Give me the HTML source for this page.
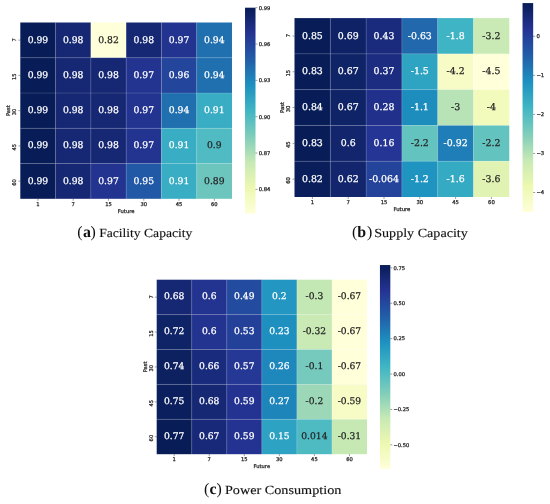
<!DOCTYPE html>
<html><head><meta charset="utf-8"><style>
html,body{margin:0;padding:0;background:#fff;}
body{width:550px;height:504px;overflow:hidden;}
svg{display:block;}
.an{font-family:"DejaVu Serif",serif;text-anchor:middle;stroke-width:0.25;}
.sm{font-family:"DejaVu Sans",sans-serif;text-anchor:middle;fill:#262626;stroke:#262626;stroke-width:0.25;}
svg text{text-rendering:geometricPrecision;}
.tk{stroke:#262626;stroke-width:0.45;}
.cap{font-family:"Liberation Serif",serif;font-size:12.4px;fill:#111;}
.pr{font-size:15.9px;}
.lb{font-size:15.9px;font-weight:bold;}
.ct{stroke:#111;stroke-width:0.12;}
line{stroke:rgba(255,255,255,0.3);stroke-width:0.45;}
</style></head><body>
<svg width="550" height="504" viewBox="0 0 550 504">
<defs><linearGradient id="g" x1="0" y1="0" x2="0" y2="1"><stop offset="0.0000" stop-color="#081d58"/><stop offset="0.0156" stop-color="#0b1f5e"/><stop offset="0.0312" stop-color="#0e2265"/><stop offset="0.0469" stop-color="#12256d"/><stop offset="0.0625" stop-color="#162874"/><stop offset="0.0781" stop-color="#192b7c"/><stop offset="0.0938" stop-color="#1d2e83"/><stop offset="0.1094" stop-color="#21308b"/><stop offset="0.1250" stop-color="#243392"/><stop offset="0.1406" stop-color="#253896"/><stop offset="0.1562" stop-color="#243d98"/><stop offset="0.1719" stop-color="#24439b"/><stop offset="0.1875" stop-color="#24489d"/><stop offset="0.2031" stop-color="#234da0"/><stop offset="0.2188" stop-color="#2352a3"/><stop offset="0.2344" stop-color="#2258a5"/><stop offset="0.2500" stop-color="#225da8"/><stop offset="0.2656" stop-color="#2163aa"/><stop offset="0.2812" stop-color="#216aad"/><stop offset="0.2969" stop-color="#2070b0"/><stop offset="0.3125" stop-color="#2076b3"/><stop offset="0.3281" stop-color="#1f7db6"/><stop offset="0.3438" stop-color="#1e83ba"/><stop offset="0.3594" stop-color="#1e8abd"/><stop offset="0.3750" stop-color="#1d90c0"/><stop offset="0.3906" stop-color="#2195c0"/><stop offset="0.4062" stop-color="#259ac1"/><stop offset="0.4219" stop-color="#2a9ec1"/><stop offset="0.4375" stop-color="#2ea3c2"/><stop offset="0.4531" stop-color="#33a7c2"/><stop offset="0.4688" stop-color="#37acc3"/><stop offset="0.4844" stop-color="#3cb1c3"/><stop offset="0.5000" stop-color="#40b5c4"/><stop offset="0.5156" stop-color="#48b9c3"/><stop offset="0.5312" stop-color="#50bbc2"/><stop offset="0.5469" stop-color="#57bec1"/><stop offset="0.5625" stop-color="#5fc1c0"/><stop offset="0.5781" stop-color="#67c4be"/><stop offset="0.5938" stop-color="#6fc7bd"/><stop offset="0.6094" stop-color="#76cabc"/><stop offset="0.6250" stop-color="#7ecdbb"/><stop offset="0.6406" stop-color="#87d0ba"/><stop offset="0.6562" stop-color="#90d4b9"/><stop offset="0.6719" stop-color="#99d7b8"/><stop offset="0.6875" stop-color="#a2dbb8"/><stop offset="0.7031" stop-color="#abdeb7"/><stop offset="0.7188" stop-color="#b4e2b6"/><stop offset="0.7344" stop-color="#bde5b5"/><stop offset="0.7500" stop-color="#c6e9b4"/><stop offset="0.7656" stop-color="#cbebb4"/><stop offset="0.7812" stop-color="#d0edb3"/><stop offset="0.7969" stop-color="#d5efb3"/><stop offset="0.8125" stop-color="#daf0b3"/><stop offset="0.8281" stop-color="#dff2b2"/><stop offset="0.8438" stop-color="#e3f4b2"/><stop offset="0.8594" stop-color="#e8f6b1"/><stop offset="0.8750" stop-color="#edf8b1"/><stop offset="0.8906" stop-color="#eff9b6"/><stop offset="0.9062" stop-color="#f1fabb"/><stop offset="0.9219" stop-color="#f4fbc0"/><stop offset="0.9375" stop-color="#f6fbc5"/><stop offset="0.9531" stop-color="#f8fcca"/><stop offset="0.9688" stop-color="#fafdcf"/><stop offset="0.9844" stop-color="#fdfed4"/><stop offset="1.0000" stop-color="#ffffd9"/></linearGradient></defs>
<rect x="20.30" y="22.50" width="35.28" height="35.26" fill="#081d58"/>
<rect x="55.58" y="22.50" width="35.28" height="35.26" fill="#162874"/>
<rect x="90.86" y="22.50" width="35.28" height="35.26" fill="#ffffd9"/>
<rect x="126.14" y="22.50" width="35.28" height="35.26" fill="#162874"/>
<rect x="161.42" y="22.50" width="35.28" height="35.26" fill="#233390"/>
<rect x="196.70" y="22.50" width="35.28" height="35.26" fill="#2070b0"/>
<rect x="20.30" y="57.76" width="35.28" height="35.26" fill="#081d58"/>
<rect x="55.58" y="57.76" width="35.28" height="35.26" fill="#162874"/>
<rect x="90.86" y="57.76" width="35.28" height="35.26" fill="#162874"/>
<rect x="126.14" y="57.76" width="35.28" height="35.26" fill="#233390"/>
<rect x="161.42" y="57.76" width="35.28" height="35.26" fill="#24459c"/>
<rect x="196.70" y="57.76" width="35.28" height="35.26" fill="#2070b0"/>
<rect x="20.30" y="93.02" width="35.28" height="35.26" fill="#081d58"/>
<rect x="55.58" y="93.02" width="35.28" height="35.26" fill="#162874"/>
<rect x="90.86" y="93.02" width="35.28" height="35.26" fill="#162874"/>
<rect x="126.14" y="93.02" width="35.28" height="35.26" fill="#233390"/>
<rect x="161.42" y="93.02" width="35.28" height="35.26" fill="#2070b0"/>
<rect x="196.70" y="93.02" width="35.28" height="35.26" fill="#39adc3"/>
<rect x="20.30" y="128.28" width="35.28" height="35.26" fill="#081d58"/>
<rect x="55.58" y="128.28" width="35.28" height="35.26" fill="#162874"/>
<rect x="90.86" y="128.28" width="35.28" height="35.26" fill="#162874"/>
<rect x="126.14" y="128.28" width="35.28" height="35.26" fill="#233390"/>
<rect x="161.42" y="128.28" width="35.28" height="35.26" fill="#39adc3"/>
<rect x="196.70" y="128.28" width="35.28" height="35.26" fill="#50bbc2"/>
<rect x="20.30" y="163.54" width="35.28" height="35.26" fill="#081d58"/>
<rect x="55.58" y="163.54" width="35.28" height="35.26" fill="#162874"/>
<rect x="90.86" y="163.54" width="35.28" height="35.26" fill="#233390"/>
<rect x="126.14" y="163.54" width="35.28" height="35.26" fill="#2259a6"/>
<rect x="161.42" y="163.54" width="35.28" height="35.26" fill="#39adc3"/>
<rect x="196.70" y="163.54" width="35.28" height="35.26" fill="#6dc6be"/>
<line x1="55.58" y1="22.50" x2="55.58" y2="198.80" />
<line x1="90.86" y1="22.50" x2="90.86" y2="198.80" />
<line x1="126.14" y1="22.50" x2="126.14" y2="198.80" />
<line x1="161.42" y1="22.50" x2="161.42" y2="198.80" />
<line x1="196.70" y1="22.50" x2="196.70" y2="198.80" />
<line x1="20.30" y1="57.76" x2="231.98" y2="57.76" />
<line x1="20.30" y1="93.02" x2="231.98" y2="93.02" />
<line x1="20.30" y1="128.28" x2="231.98" y2="128.28" />
<line x1="20.30" y1="163.54" x2="231.98" y2="163.54" />
<text class="an" x="37.94" y="42.67" fill="#ffffff" stroke="#ffffff" font-size="9.24">0.99</text>
<text class="an" x="73.22" y="42.67" fill="#ffffff" stroke="#ffffff" font-size="9.24">0.98</text>
<text class="an" x="108.50" y="42.67" fill="#262626" stroke="#262626" font-size="9.24">0.82</text>
<text class="an" x="143.78" y="42.67" fill="#ffffff" stroke="#ffffff" font-size="9.24">0.98</text>
<text class="an" x="179.06" y="42.67" fill="#ffffff" stroke="#ffffff" font-size="9.24">0.97</text>
<text class="an" x="214.34" y="42.67" fill="#ffffff" stroke="#ffffff" font-size="9.24">0.94</text>
<text class="an" x="37.94" y="77.93" fill="#ffffff" stroke="#ffffff" font-size="9.24">0.99</text>
<text class="an" x="73.22" y="77.93" fill="#ffffff" stroke="#ffffff" font-size="9.24">0.98</text>
<text class="an" x="108.50" y="77.93" fill="#ffffff" stroke="#ffffff" font-size="9.24">0.98</text>
<text class="an" x="143.78" y="77.93" fill="#ffffff" stroke="#ffffff" font-size="9.24">0.97</text>
<text class="an" x="179.06" y="77.93" fill="#ffffff" stroke="#ffffff" font-size="9.24">0.96</text>
<text class="an" x="214.34" y="77.93" fill="#ffffff" stroke="#ffffff" font-size="9.24">0.94</text>
<text class="an" x="37.94" y="113.19" fill="#ffffff" stroke="#ffffff" font-size="9.24">0.99</text>
<text class="an" x="73.22" y="113.19" fill="#ffffff" stroke="#ffffff" font-size="9.24">0.98</text>
<text class="an" x="108.50" y="113.19" fill="#ffffff" stroke="#ffffff" font-size="9.24">0.98</text>
<text class="an" x="143.78" y="113.19" fill="#ffffff" stroke="#ffffff" font-size="9.24">0.97</text>
<text class="an" x="179.06" y="113.19" fill="#ffffff" stroke="#ffffff" font-size="9.24">0.94</text>
<text class="an" x="214.34" y="113.19" fill="#ffffff" stroke="#ffffff" font-size="9.24">0.91</text>
<text class="an" x="37.94" y="148.45" fill="#ffffff" stroke="#ffffff" font-size="9.24">0.99</text>
<text class="an" x="73.22" y="148.45" fill="#ffffff" stroke="#ffffff" font-size="9.24">0.98</text>
<text class="an" x="108.50" y="148.45" fill="#ffffff" stroke="#ffffff" font-size="9.24">0.98</text>
<text class="an" x="143.78" y="148.45" fill="#ffffff" stroke="#ffffff" font-size="9.24">0.97</text>
<text class="an" x="179.06" y="148.45" fill="#ffffff" stroke="#ffffff" font-size="9.24">0.91</text>
<text class="an" x="214.34" y="148.45" fill="#262626" stroke="#262626" font-size="9.24">0.9</text>
<text class="an" x="37.94" y="183.71" fill="#ffffff" stroke="#ffffff" font-size="9.24">0.99</text>
<text class="an" x="73.22" y="183.71" fill="#ffffff" stroke="#ffffff" font-size="9.24">0.98</text>
<text class="an" x="108.50" y="183.71" fill="#ffffff" stroke="#ffffff" font-size="9.24">0.97</text>
<text class="an" x="143.78" y="183.71" fill="#ffffff" stroke="#ffffff" font-size="9.24">0.95</text>
<text class="an" x="179.06" y="183.71" fill="#ffffff" stroke="#ffffff" font-size="9.24">0.91</text>
<text class="an" x="214.34" y="183.71" fill="#262626" stroke="#262626" font-size="9.24">0.89</text>
<line class="tk" x1="18.36" y1="40.13" x2="20.30" y2="40.13"/>
<text class="sm" style="text-anchor:end" font-size="5.22" transform="translate(16.21,38.15) rotate(-90)" x="0" y="0">7</text>
<line class="tk" x1="18.36" y1="75.39" x2="20.30" y2="75.39"/>
<text class="sm" style="text-anchor:end" font-size="5.22" transform="translate(16.21,73.41) rotate(-90)" x="0" y="0">15</text>
<line class="tk" x1="18.36" y1="110.65" x2="20.30" y2="110.65"/>
<text class="sm" style="text-anchor:end" font-size="5.22" transform="translate(16.21,108.67) rotate(-90)" x="0" y="0">30</text>
<line class="tk" x1="18.36" y1="145.91" x2="20.30" y2="145.91"/>
<text class="sm" style="text-anchor:end" font-size="5.22" transform="translate(16.21,143.93) rotate(-90)" x="0" y="0">45</text>
<line class="tk" x1="18.36" y1="181.17" x2="20.30" y2="181.17"/>
<text class="sm" style="text-anchor:end" font-size="5.22" transform="translate(16.21,179.19) rotate(-90)" x="0" y="0">60</text>
<line class="tk" x1="37.94" y1="198.80" x2="37.94" y2="200.74"/>
<text class="sm" font-size="5.22" x="37.94" y="206.10">1</text>
<line class="tk" x1="73.22" y1="198.80" x2="73.22" y2="200.74"/>
<text class="sm" font-size="5.22" x="73.22" y="206.10">7</text>
<line class="tk" x1="108.50" y1="198.80" x2="108.50" y2="200.74"/>
<text class="sm" font-size="5.22" x="108.50" y="206.10">15</text>
<line class="tk" x1="143.78" y1="198.80" x2="143.78" y2="200.74"/>
<text class="sm" font-size="5.22" x="143.78" y="206.10">30</text>
<line class="tk" x1="179.06" y1="198.80" x2="179.06" y2="200.74"/>
<text class="sm" font-size="5.22" x="179.06" y="206.10">45</text>
<line class="tk" x1="214.34" y1="198.80" x2="214.34" y2="200.74"/>
<text class="sm" font-size="5.22" x="214.34" y="206.10">60</text>
<text class="sm" font-size="5.22" x="126.14" y="212.56">Future</text>
<text class="sm" font-size="5.22" transform="translate(10.07,110.65) rotate(-90)" x="0" y="0">Past</text>
<rect x="245.03" y="7.69" width="10.48" height="205.92" fill="url(#g)"/>
<line class="tk" x1="255.51" y1="189.38" x2="257.44" y2="189.38"/>
<text class="sm" style="text-anchor:start" font-size="5.22" x="258.68" y="191.22">0.84</text>
<line class="tk" x1="255.51" y1="153.04" x2="257.44" y2="153.04"/>
<text class="sm" style="text-anchor:start" font-size="5.22" x="258.68" y="154.88">0.87</text>
<line class="tk" x1="255.51" y1="116.71" x2="257.44" y2="116.71"/>
<text class="sm" style="text-anchor:start" font-size="5.22" x="258.68" y="118.54">0.90</text>
<line class="tk" x1="255.51" y1="80.37" x2="257.44" y2="80.37"/>
<text class="sm" style="text-anchor:start" font-size="5.22" x="258.68" y="82.20">0.93</text>
<line class="tk" x1="255.51" y1="44.03" x2="257.44" y2="44.03"/>
<text class="sm" style="text-anchor:start" font-size="5.22" x="258.68" y="45.86">0.96</text>
<line class="tk" x1="255.51" y1="7.69" x2="257.44" y2="7.69"/>
<text class="sm" style="text-anchor:start" font-size="5.22" x="258.68" y="9.52">0.99</text>
<rect x="294.50" y="18.10" width="35.80" height="35.78" fill="#081d58"/>
<rect x="330.30" y="18.10" width="35.80" height="35.78" fill="#0e2265"/>
<rect x="366.10" y="18.10" width="35.80" height="35.78" fill="#1a2b7e"/>
<rect x="401.90" y="18.10" width="35.80" height="35.78" fill="#2168ad"/>
<rect x="437.70" y="18.10" width="35.80" height="35.78" fill="#3fb4c4"/>
<rect x="473.50" y="18.10" width="35.80" height="35.78" fill="#c9eab4"/>
<rect x="294.50" y="53.88" width="35.80" height="35.78" fill="#081d58"/>
<rect x="330.30" y="53.88" width="35.80" height="35.78" fill="#0f2367"/>
<rect x="366.10" y="53.88" width="35.80" height="35.78" fill="#1c2d81"/>
<rect x="401.90" y="53.88" width="35.80" height="35.78" fill="#2fa4c2"/>
<rect x="437.70" y="53.88" width="35.80" height="35.78" fill="#f7fcc7"/>
<rect x="473.50" y="53.88" width="35.80" height="35.78" fill="#ffffd9"/>
<rect x="294.50" y="89.66" width="35.80" height="35.78" fill="#081d58"/>
<rect x="330.30" y="89.66" width="35.80" height="35.78" fill="#0f2367"/>
<rect x="366.10" y="89.66" width="35.80" height="35.78" fill="#21308b"/>
<rect x="401.90" y="89.66" width="35.80" height="35.78" fill="#1d8dbe"/>
<rect x="437.70" y="89.66" width="35.80" height="35.78" fill="#b7e3b6"/>
<rect x="473.50" y="89.66" width="35.80" height="35.78" fill="#f2fabc"/>
<rect x="294.50" y="125.44" width="35.80" height="35.78" fill="#081d58"/>
<rect x="330.30" y="125.44" width="35.80" height="35.78" fill="#12256d"/>
<rect x="366.10" y="125.44" width="35.80" height="35.78" fill="#253595"/>
<rect x="401.90" y="125.44" width="35.80" height="35.78" fill="#63c3bf"/>
<rect x="437.70" y="125.44" width="35.80" height="35.78" fill="#1f7eb7"/>
<rect x="473.50" y="125.44" width="35.80" height="35.78" fill="#63c3bf"/>
<rect x="294.50" y="161.22" width="35.80" height="35.78" fill="#091e5a"/>
<rect x="330.30" y="161.22" width="35.80" height="35.78" fill="#12256d"/>
<rect x="366.10" y="161.22" width="35.80" height="35.78" fill="#24439b"/>
<rect x="401.90" y="161.22" width="35.80" height="35.78" fill="#2094c0"/>
<rect x="437.70" y="161.22" width="35.80" height="35.78" fill="#35aac3"/>
<rect x="473.50" y="161.22" width="35.80" height="35.78" fill="#e0f3b2"/>
<line x1="330.30" y1="18.10" x2="330.30" y2="197.00" />
<line x1="366.10" y1="18.10" x2="366.10" y2="197.00" />
<line x1="401.90" y1="18.10" x2="401.90" y2="197.00" />
<line x1="437.70" y1="18.10" x2="437.70" y2="197.00" />
<line x1="473.50" y1="18.10" x2="473.50" y2="197.00" />
<line x1="294.50" y1="53.88" x2="509.30" y2="53.88" />
<line x1="294.50" y1="89.66" x2="509.30" y2="89.66" />
<line x1="294.50" y1="125.44" x2="509.30" y2="125.44" />
<line x1="294.50" y1="161.22" x2="509.30" y2="161.22" />
<text class="an" x="312.40" y="38.57" fill="#ffffff" stroke="#ffffff" font-size="9.38">0.85</text>
<text class="an" x="348.20" y="38.57" fill="#ffffff" stroke="#ffffff" font-size="9.38">0.69</text>
<text class="an" x="384.00" y="38.57" fill="#ffffff" stroke="#ffffff" font-size="9.38">0.43</text>
<text class="an" x="419.80" y="38.57" fill="#ffffff" stroke="#ffffff" font-size="9.38">-0.63</text>
<text class="an" x="455.60" y="38.57" fill="#ffffff" stroke="#ffffff" font-size="9.38">-1.8</text>
<text class="an" x="491.40" y="38.57" fill="#262626" stroke="#262626" font-size="9.38">-3.2</text>
<text class="an" x="312.40" y="74.35" fill="#ffffff" stroke="#ffffff" font-size="9.38">0.83</text>
<text class="an" x="348.20" y="74.35" fill="#ffffff" stroke="#ffffff" font-size="9.38">0.67</text>
<text class="an" x="384.00" y="74.35" fill="#ffffff" stroke="#ffffff" font-size="9.38">0.37</text>
<text class="an" x="419.80" y="74.35" fill="#ffffff" stroke="#ffffff" font-size="9.38">-1.5</text>
<text class="an" x="455.60" y="74.35" fill="#262626" stroke="#262626" font-size="9.38">-4.2</text>
<text class="an" x="491.40" y="74.35" fill="#262626" stroke="#262626" font-size="9.38">-4.5</text>
<text class="an" x="312.40" y="110.13" fill="#ffffff" stroke="#ffffff" font-size="9.38">0.84</text>
<text class="an" x="348.20" y="110.13" fill="#ffffff" stroke="#ffffff" font-size="9.38">0.67</text>
<text class="an" x="384.00" y="110.13" fill="#ffffff" stroke="#ffffff" font-size="9.38">0.28</text>
<text class="an" x="419.80" y="110.13" fill="#ffffff" stroke="#ffffff" font-size="9.38">-1.1</text>
<text class="an" x="455.60" y="110.13" fill="#262626" stroke="#262626" font-size="9.38">-3</text>
<text class="an" x="491.40" y="110.13" fill="#262626" stroke="#262626" font-size="9.38">-4</text>
<text class="an" x="312.40" y="145.91" fill="#ffffff" stroke="#ffffff" font-size="9.38">0.83</text>
<text class="an" x="348.20" y="145.91" fill="#ffffff" stroke="#ffffff" font-size="9.38">0.6</text>
<text class="an" x="384.00" y="145.91" fill="#ffffff" stroke="#ffffff" font-size="9.38">0.16</text>
<text class="an" x="419.80" y="145.91" fill="#262626" stroke="#262626" font-size="9.38">-2.2</text>
<text class="an" x="455.60" y="145.91" fill="#ffffff" stroke="#ffffff" font-size="9.38">-0.92</text>
<text class="an" x="491.40" y="145.91" fill="#262626" stroke="#262626" font-size="9.38">-2.2</text>
<text class="an" x="312.40" y="181.69" fill="#ffffff" stroke="#ffffff" font-size="9.38">0.82</text>
<text class="an" x="348.20" y="181.69" fill="#ffffff" stroke="#ffffff" font-size="9.38">0.62</text>
<text class="an" x="384.00" y="181.69" fill="#ffffff" stroke="#ffffff" font-size="9.38">-0.064</text>
<text class="an" x="419.80" y="181.69" fill="#ffffff" stroke="#ffffff" font-size="9.38">-1.2</text>
<text class="an" x="455.60" y="181.69" fill="#ffffff" stroke="#ffffff" font-size="9.38">-1.6</text>
<text class="an" x="491.40" y="181.69" fill="#262626" stroke="#262626" font-size="9.38">-3.6</text>
<line class="tk" x1="292.53" y1="35.99" x2="294.50" y2="35.99"/>
<text class="sm" style="text-anchor:end" font-size="5.30" transform="translate(290.35,33.99) rotate(-90)" x="0" y="0">7</text>
<line class="tk" x1="292.53" y1="71.77" x2="294.50" y2="71.77"/>
<text class="sm" style="text-anchor:end" font-size="5.30" transform="translate(290.35,69.77) rotate(-90)" x="0" y="0">15</text>
<line class="tk" x1="292.53" y1="107.55" x2="294.50" y2="107.55"/>
<text class="sm" style="text-anchor:end" font-size="5.30" transform="translate(290.35,105.55) rotate(-90)" x="0" y="0">30</text>
<line class="tk" x1="292.53" y1="143.33" x2="294.50" y2="143.33"/>
<text class="sm" style="text-anchor:end" font-size="5.30" transform="translate(290.35,141.33) rotate(-90)" x="0" y="0">45</text>
<line class="tk" x1="292.53" y1="179.11" x2="294.50" y2="179.11"/>
<text class="sm" style="text-anchor:end" font-size="5.30" transform="translate(290.35,177.11) rotate(-90)" x="0" y="0">60</text>
<line class="tk" x1="312.40" y1="197.00" x2="312.40" y2="198.97"/>
<text class="sm" font-size="5.30" x="312.40" y="204.41">1</text>
<line class="tk" x1="348.20" y1="197.00" x2="348.20" y2="198.97"/>
<text class="sm" font-size="5.30" x="348.20" y="204.41">7</text>
<line class="tk" x1="384.00" y1="197.00" x2="384.00" y2="198.97"/>
<text class="sm" font-size="5.30" x="384.00" y="204.41">15</text>
<line class="tk" x1="419.80" y1="197.00" x2="419.80" y2="198.97"/>
<text class="sm" font-size="5.30" x="419.80" y="204.41">30</text>
<line class="tk" x1="455.60" y1="197.00" x2="455.60" y2="198.97"/>
<text class="sm" font-size="5.30" x="455.60" y="204.41">45</text>
<line class="tk" x1="491.40" y1="197.00" x2="491.40" y2="198.97"/>
<text class="sm" font-size="5.30" x="491.40" y="204.41">60</text>
<text class="sm" font-size="5.30" x="401.90" y="210.96">Future</text>
<text class="sm" font-size="5.30" transform="translate(284.12,107.55) rotate(-90)" x="0" y="0">Past</text>
<rect x="522.54" y="3.07" width="10.63" height="208.96" fill="url(#g)"/>
<line class="tk" x1="533.17" y1="36.27" x2="535.14" y2="36.27"/>
<text class="sm" style="text-anchor:start" font-size="5.30" x="536.39" y="38.13">0</text>
<line class="tk" x1="533.17" y1="75.33" x2="535.14" y2="75.33"/>
<text class="sm" style="text-anchor:start" font-size="5.30" x="536.39" y="77.19">−1</text>
<line class="tk" x1="533.17" y1="114.38" x2="535.14" y2="114.38"/>
<text class="sm" style="text-anchor:start" font-size="5.30" x="536.39" y="116.25">−2</text>
<line class="tk" x1="533.17" y1="153.44" x2="535.14" y2="153.44"/>
<text class="sm" style="text-anchor:start" font-size="5.30" x="536.39" y="155.30">−3</text>
<line class="tk" x1="533.17" y1="192.50" x2="535.14" y2="192.50"/>
<text class="sm" style="text-anchor:start" font-size="5.30" x="536.39" y="194.36">−4</text>
<rect x="156.70" y="279.70" width="35.05" height="34.90" fill="#162874"/>
<rect x="191.75" y="279.70" width="35.05" height="34.90" fill="#233390"/>
<rect x="226.80" y="279.70" width="35.05" height="34.90" fill="#234b9f"/>
<rect x="261.85" y="279.70" width="35.05" height="34.90" fill="#2397c1"/>
<rect x="296.90" y="279.70" width="35.05" height="34.90" fill="#c4e8b4"/>
<rect x="331.95" y="279.70" width="35.05" height="34.90" fill="#ffffd9"/>
<rect x="156.70" y="314.60" width="35.05" height="34.90" fill="#0f2367"/>
<rect x="191.75" y="314.60" width="35.05" height="34.90" fill="#233390"/>
<rect x="226.80" y="314.60" width="35.05" height="34.90" fill="#24419a"/>
<rect x="261.85" y="314.60" width="35.05" height="34.90" fill="#1d90c0"/>
<rect x="296.90" y="314.60" width="35.05" height="34.90" fill="#c9eab4"/>
<rect x="331.95" y="314.60" width="35.05" height="34.90" fill="#ffffd9"/>
<rect x="156.70" y="349.50" width="35.05" height="34.90" fill="#0d2161"/>
<rect x="191.75" y="349.50" width="35.05" height="34.90" fill="#192b7c"/>
<rect x="226.80" y="349.50" width="35.05" height="34.90" fill="#253896"/>
<rect x="261.85" y="349.50" width="35.05" height="34.90" fill="#1e88bc"/>
<rect x="296.90" y="349.50" width="35.05" height="34.90" fill="#75c9bd"/>
<rect x="331.95" y="349.50" width="35.05" height="34.90" fill="#ffffd9"/>
<rect x="156.70" y="384.40" width="35.05" height="34.90" fill="#0b1f5e"/>
<rect x="191.75" y="384.40" width="35.05" height="34.90" fill="#162874"/>
<rect x="226.80" y="384.40" width="35.05" height="34.90" fill="#243392"/>
<rect x="261.85" y="384.40" width="35.05" height="34.90" fill="#1e85ba"/>
<rect x="296.90" y="384.40" width="35.05" height="34.90" fill="#9cd8b8"/>
<rect x="331.95" y="384.40" width="35.05" height="34.90" fill="#f7fcc7"/>
<rect x="156.70" y="419.30" width="35.05" height="34.90" fill="#081d58"/>
<rect x="191.75" y="419.30" width="35.05" height="34.90" fill="#172978"/>
<rect x="226.80" y="419.30" width="35.05" height="34.90" fill="#243392"/>
<rect x="261.85" y="419.30" width="35.05" height="34.90" fill="#2da2c2"/>
<rect x="296.90" y="419.30" width="35.05" height="34.90" fill="#4ebbc2"/>
<rect x="331.95" y="419.30" width="35.05" height="34.90" fill="#c6e9b4"/>
<line x1="191.75" y1="279.70" x2="191.75" y2="454.20" />
<line x1="226.80" y1="279.70" x2="226.80" y2="454.20" />
<line x1="261.85" y1="279.70" x2="261.85" y2="454.20" />
<line x1="296.90" y1="279.70" x2="296.90" y2="454.20" />
<line x1="331.95" y1="279.70" x2="331.95" y2="454.20" />
<line x1="156.70" y1="314.60" x2="367.00" y2="314.60" />
<line x1="156.70" y1="349.50" x2="367.00" y2="349.50" />
<line x1="156.70" y1="384.40" x2="367.00" y2="384.40" />
<line x1="156.70" y1="419.30" x2="367.00" y2="419.30" />
<text class="an" x="174.22" y="299.37" fill="#ffffff" stroke="#ffffff" font-size="9.16">0.68</text>
<text class="an" x="209.27" y="299.37" fill="#ffffff" stroke="#ffffff" font-size="9.16">0.6</text>
<text class="an" x="244.32" y="299.37" fill="#ffffff" stroke="#ffffff" font-size="9.16">0.49</text>
<text class="an" x="279.38" y="299.37" fill="#ffffff" stroke="#ffffff" font-size="9.16">0.2</text>
<text class="an" x="314.42" y="299.37" fill="#262626" stroke="#262626" font-size="9.16">-0.3</text>
<text class="an" x="349.47" y="299.37" fill="#262626" stroke="#262626" font-size="9.16">-0.67</text>
<text class="an" x="174.22" y="334.27" fill="#ffffff" stroke="#ffffff" font-size="9.16">0.72</text>
<text class="an" x="209.27" y="334.27" fill="#ffffff" stroke="#ffffff" font-size="9.16">0.6</text>
<text class="an" x="244.32" y="334.27" fill="#ffffff" stroke="#ffffff" font-size="9.16">0.53</text>
<text class="an" x="279.38" y="334.27" fill="#ffffff" stroke="#ffffff" font-size="9.16">0.23</text>
<text class="an" x="314.42" y="334.27" fill="#262626" stroke="#262626" font-size="9.16">-0.32</text>
<text class="an" x="349.47" y="334.27" fill="#262626" stroke="#262626" font-size="9.16">-0.67</text>
<text class="an" x="174.22" y="369.17" fill="#ffffff" stroke="#ffffff" font-size="9.16">0.74</text>
<text class="an" x="209.27" y="369.17" fill="#ffffff" stroke="#ffffff" font-size="9.16">0.66</text>
<text class="an" x="244.32" y="369.17" fill="#ffffff" stroke="#ffffff" font-size="9.16">0.57</text>
<text class="an" x="279.38" y="369.17" fill="#ffffff" stroke="#ffffff" font-size="9.16">0.26</text>
<text class="an" x="314.42" y="369.17" fill="#262626" stroke="#262626" font-size="9.16">-0.1</text>
<text class="an" x="349.47" y="369.17" fill="#262626" stroke="#262626" font-size="9.16">-0.67</text>
<text class="an" x="174.22" y="404.07" fill="#ffffff" stroke="#ffffff" font-size="9.16">0.75</text>
<text class="an" x="209.27" y="404.07" fill="#ffffff" stroke="#ffffff" font-size="9.16">0.68</text>
<text class="an" x="244.32" y="404.07" fill="#ffffff" stroke="#ffffff" font-size="9.16">0.59</text>
<text class="an" x="279.38" y="404.07" fill="#ffffff" stroke="#ffffff" font-size="9.16">0.27</text>
<text class="an" x="314.42" y="404.07" fill="#262626" stroke="#262626" font-size="9.16">-0.2</text>
<text class="an" x="349.47" y="404.07" fill="#262626" stroke="#262626" font-size="9.16">-0.59</text>
<text class="an" x="174.22" y="438.97" fill="#ffffff" stroke="#ffffff" font-size="9.16">0.77</text>
<text class="an" x="209.27" y="438.97" fill="#ffffff" stroke="#ffffff" font-size="9.16">0.67</text>
<text class="an" x="244.32" y="438.97" fill="#ffffff" stroke="#ffffff" font-size="9.16">0.59</text>
<text class="an" x="279.38" y="438.97" fill="#ffffff" stroke="#ffffff" font-size="9.16">0.15</text>
<text class="an" x="314.42" y="438.97" fill="#262626" stroke="#262626" font-size="9.16">0.014</text>
<text class="an" x="349.47" y="438.97" fill="#262626" stroke="#262626" font-size="9.16">-0.31</text>
<line class="tk" x1="154.78" y1="297.15" x2="156.70" y2="297.15"/>
<text class="sm" style="text-anchor:end" font-size="5.18" transform="translate(152.64,295.19) rotate(-90)" x="0" y="0">7</text>
<line class="tk" x1="154.78" y1="332.05" x2="156.70" y2="332.05"/>
<text class="sm" style="text-anchor:end" font-size="5.18" transform="translate(152.64,330.09) rotate(-90)" x="0" y="0">15</text>
<line class="tk" x1="154.78" y1="366.95" x2="156.70" y2="366.95"/>
<text class="sm" style="text-anchor:end" font-size="5.18" transform="translate(152.64,364.99) rotate(-90)" x="0" y="0">30</text>
<line class="tk" x1="154.78" y1="401.85" x2="156.70" y2="401.85"/>
<text class="sm" style="text-anchor:end" font-size="5.18" transform="translate(152.64,399.89) rotate(-90)" x="0" y="0">45</text>
<line class="tk" x1="154.78" y1="436.75" x2="156.70" y2="436.75"/>
<text class="sm" style="text-anchor:end" font-size="5.18" transform="translate(152.64,434.79) rotate(-90)" x="0" y="0">60</text>
<line class="tk" x1="174.22" y1="454.20" x2="174.22" y2="456.12"/>
<text class="sm" font-size="5.18" x="174.22" y="461.44">1</text>
<line class="tk" x1="209.27" y1="454.20" x2="209.27" y2="456.12"/>
<text class="sm" font-size="5.18" x="209.27" y="461.44">7</text>
<line class="tk" x1="244.32" y1="454.20" x2="244.32" y2="456.12"/>
<text class="sm" font-size="5.18" x="244.32" y="461.44">15</text>
<line class="tk" x1="279.38" y1="454.20" x2="279.38" y2="456.12"/>
<text class="sm" font-size="5.18" x="279.38" y="461.44">30</text>
<line class="tk" x1="314.42" y1="454.20" x2="314.42" y2="456.12"/>
<text class="sm" font-size="5.18" x="314.42" y="461.44">45</text>
<line class="tk" x1="349.47" y1="454.20" x2="349.47" y2="456.12"/>
<text class="sm" font-size="5.18" x="349.47" y="461.44">60</text>
<text class="sm" font-size="5.18" x="261.85" y="467.84">Future</text>
<text class="sm" font-size="5.18" transform="translate(146.56,366.95) rotate(-90)" x="0" y="0">Past</text>
<rect x="379.94" y="265.04" width="10.39" height="203.82" fill="url(#g)"/>
<line class="tk" x1="390.33" y1="267.87" x2="392.25" y2="267.87"/>
<text class="sm" style="text-anchor:start" font-size="5.18" x="393.48" y="269.69">0.75</text>
<line class="tk" x1="390.33" y1="303.26" x2="392.25" y2="303.26"/>
<text class="sm" style="text-anchor:start" font-size="5.18" x="393.48" y="305.08">0.50</text>
<line class="tk" x1="390.33" y1="338.64" x2="392.25" y2="338.64"/>
<text class="sm" style="text-anchor:start" font-size="5.18" x="393.48" y="340.46">0.25</text>
<line class="tk" x1="390.33" y1="374.03" x2="392.25" y2="374.03"/>
<text class="sm" style="text-anchor:start" font-size="5.18" x="393.48" y="375.85">0.00</text>
<line class="tk" x1="390.33" y1="409.41" x2="392.25" y2="409.41"/>
<text class="sm" style="text-anchor:start" font-size="5.18" x="393.48" y="411.23">−0.25</text>
<line class="tk" x1="390.33" y1="444.80" x2="392.25" y2="444.80"/>
<text class="sm" style="text-anchor:start" font-size="5.18" x="393.48" y="446.62">−0.50</text>
<text class="cap" y="236.5"><tspan class="pr" x="77.3">(</tspan><tspan class="lb" x="82.9">a</tspan><tspan class="pr" x="90.6">)</tspan></text><text class="cap ct" x="99.15" y="236.5" textLength="93.2" lengthAdjust="spacingAndGlyphs">Facility Capacity</text>
<text class="cap" y="236.5"><tspan class="pr" x="352.1">(</tspan><tspan class="lb" x="357.2">b</tspan><tspan class="pr" x="367.0">)</tspan></text><text class="cap ct" x="374.2" y="236.5" textLength="93.66" lengthAdjust="spacingAndGlyphs">Supply Capacity</text>
<text class="cap" y="493.6"><tspan class="pr" x="204.1">(</tspan><tspan class="lb" x="209.4">c</tspan><tspan class="pr" x="216.6">)</tspan></text><text class="cap ct" x="224.95" y="493.6" textLength="116.44" lengthAdjust="spacingAndGlyphs">Power Consumption</text>
</svg>
</body></html>
